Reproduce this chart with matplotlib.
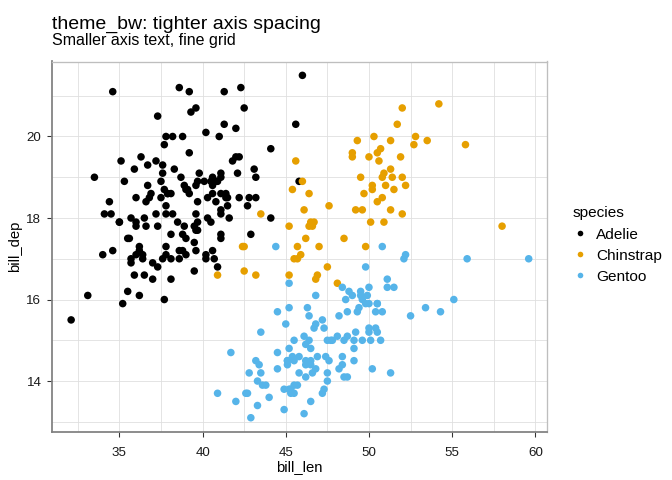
import matplotlib
matplotlib.use("Agg")
import matplotlib.pyplot as plt
from matplotlib.lines import Line2D
from matplotlib.ticker import MultipleLocator

plt.rcParams['font.family'] = ['Liberation Sans', 'DejaVu Sans']

# penguins: bill length / bill depth (mm) per species
adelie_len = [39.1, 39.5, 40.3, 36.7, 39.3, 38.9, 39.2, 34.1, 42.0, 37.8, 37.8, 41.1, 38.6, 34.6, 36.6, 38.7,
              42.5, 34.4, 46.0, 37.8, 37.7, 35.9, 38.2, 38.8, 35.3, 40.6, 40.5, 37.9, 40.5, 39.5, 37.2, 39.5,
              40.9, 36.4, 39.2, 38.8, 42.2, 37.6, 39.8, 36.5, 40.8, 36.0, 44.1, 37.0, 39.6, 41.1, 37.5, 36.0,
              42.3, 39.6, 40.1, 35.0, 42.0, 34.5, 41.4, 39.0, 40.6, 36.5, 37.6, 35.7, 41.3, 37.6, 41.1, 36.4,
              41.6, 35.5, 41.1, 35.9, 41.8, 33.5, 39.7, 39.6, 45.8, 35.5, 42.8, 40.9, 37.2, 36.2, 42.1, 34.6,
              42.9, 36.7, 35.1, 37.3, 41.3, 36.3, 36.9, 38.3, 38.9, 35.7, 41.1, 34.0, 39.6, 36.2, 40.8, 38.1,
              40.3, 33.1, 43.2, 35.0, 41.0, 37.7, 37.8, 37.9, 39.7, 38.6, 38.2, 38.1, 43.2, 38.1, 45.6, 39.7,
              42.2, 39.6, 42.7, 38.6, 37.3, 35.7, 41.1, 36.2, 37.7, 40.2, 41.4, 35.2, 40.6, 38.8, 41.5, 39.0,
              44.1, 38.5, 43.1, 36.8, 37.5, 38.1, 41.1, 35.6, 40.2, 37.0, 39.7, 40.2, 40.6, 32.1, 40.7, 37.3,
              39.0, 39.2, 36.6, 36.0, 37.8, 36.0, 41.5]
adelie_dep = [18.7, 17.4, 18.0, 19.3, 20.6, 17.8, 19.6, 18.1, 20.2, 17.1, 17.3, 17.6, 21.2, 21.1, 17.8, 19.0,
              20.7, 18.4, 21.5, 18.3, 18.7, 19.2, 18.1, 17.2, 18.9, 18.6, 17.9, 18.6, 18.9, 16.7, 18.1, 17.8,
              18.9, 17.0, 21.1, 20.0, 18.5, 19.3, 19.1, 18.0, 18.4, 18.5, 19.7, 16.9, 18.8, 19.0, 18.9, 17.9,
              21.2, 17.7, 18.9, 17.9, 19.5, 18.1, 18.6, 17.5, 18.8, 16.6, 19.1, 16.9, 21.1, 17.0, 18.2, 17.1,
              18.0, 16.2, 19.1, 16.6, 19.4, 19.0, 18.4, 17.2, 18.9, 17.5, 18.5, 16.8, 19.4, 16.1, 19.1, 17.2,
              17.6, 18.8, 19.4, 17.8, 20.3, 19.5, 18.6, 19.2, 18.8, 18.0, 18.1, 17.1, 18.1, 17.3, 18.9, 18.6,
              18.5, 16.1, 18.5, 17.9, 20.0, 16.0, 20.0, 18.6, 18.9, 17.2, 20.0, 17.0, 19.0, 16.5, 20.3, 17.7,
              19.5, 20.7, 18.3, 17.0, 20.5, 17.0, 18.6, 17.2, 19.8, 17.0, 18.5, 15.9, 19.0, 17.6, 18.3, 17.1,
              18.0, 17.9, 19.2, 18.5, 18.5, 17.6, 17.5, 17.5, 20.1, 16.5, 17.9, 17.1, 17.2, 15.5, 17.0, 16.8,
              18.7, 18.6, 18.4, 17.8, 18.1, 17.1, 18.5]

chinstrap_len = [46.5, 50.0, 51.3, 45.4, 52.7, 45.2, 46.1, 51.3, 46.0, 51.3, 46.6, 51.7, 47.0, 52.0, 45.9, 50.5,
                 50.3, 58.0, 46.4, 49.2, 42.4, 48.5, 43.2, 50.6, 46.7, 52.0, 50.5, 49.5, 46.4, 52.8, 40.9, 54.2,
                 42.5, 51.0, 49.7, 47.5, 47.6, 52.0, 46.9, 53.5, 49.0, 46.2, 50.9, 45.5, 50.9, 50.8, 50.1, 49.0,
                 51.5, 49.8, 48.1, 51.4, 45.7, 50.7, 42.5, 52.2, 45.2, 49.3, 50.2, 45.6, 51.9, 46.8, 45.7, 55.8,
                 43.5, 49.6, 50.8, 50.2]
chinstrap_dep = [17.9, 19.5, 19.2, 18.7, 19.8, 17.8, 18.2, 18.2, 18.9, 19.9, 17.8, 20.3, 17.3, 18.1, 17.1, 19.6,
                 20.0, 17.8, 18.6, 18.2, 17.3, 17.5, 16.6, 19.4, 17.9, 19.0, 18.4, 19.0, 17.8, 20.0, 16.6, 20.8,
                 16.7, 18.8, 18.6, 16.8, 18.3, 20.7, 16.6, 19.9, 19.5, 17.5, 19.1, 17.0, 17.9, 18.5, 17.9, 19.6,
                 18.7, 17.3, 16.4, 19.0, 17.3, 19.7, 17.3, 18.8, 16.6, 19.9, 18.8, 19.4, 19.5, 16.5, 17.0, 19.8,
                 18.1, 18.2, 19.0, 18.7]

gentoo_len = [46.1, 50.0, 48.7, 50.0, 47.6, 46.5, 45.4, 46.7, 43.3, 46.8, 40.9, 49.0, 45.5, 48.4, 45.8, 49.3,
              42.0, 49.2, 46.2, 48.7, 50.2, 45.1, 46.5, 46.3, 42.9, 46.1, 44.5, 47.8, 48.2, 50.0, 47.3, 42.8,
              45.1, 59.6, 49.1, 48.4, 42.6, 44.4, 44.0, 48.7, 42.7, 49.6, 45.3, 49.6, 50.5, 43.6, 45.5, 50.5,
              44.9, 45.2, 46.6, 48.5, 45.1, 50.1, 46.5, 45.0, 43.8, 45.5, 43.2, 50.4, 45.3, 46.2, 45.7, 54.3,
              45.8, 49.8, 46.2, 49.5, 43.5, 50.7, 47.7, 46.4, 48.2, 46.5, 46.4, 48.6, 47.5, 51.1, 45.2, 45.2,
              49.1, 52.5, 47.4, 50.0, 44.9, 50.8, 43.4, 51.3, 47.5, 52.1, 47.5, 52.2, 45.5, 49.5, 44.5, 50.8,
              49.4, 46.9, 48.4, 51.1, 48.5, 55.9, 47.2, 49.1, 47.3, 46.8, 41.7, 53.4, 43.3, 48.1, 50.5, 49.8,
              43.5, 51.5, 46.2, 55.1, 44.5, 48.8, 47.2, 46.8, 50.4, 45.2, 49.9]
gentoo_dep = [13.2, 16.3, 14.1, 15.2, 14.5, 13.5, 14.6, 15.3, 13.4, 15.4, 13.7, 16.1, 13.7, 14.6, 14.6, 15.7,
              13.5, 15.2, 14.5, 15.1, 14.3, 14.5, 14.5, 15.8, 13.1, 15.1, 14.3, 15.0, 14.3, 15.3, 15.3, 14.2,
              14.5, 17.0, 14.8, 16.3, 13.7, 17.3, 13.6, 15.7, 13.7, 16.0, 13.7, 15.0, 15.9, 13.9, 13.9, 15.9,
              13.3, 15.8, 14.2, 14.1, 14.4, 15.0, 14.4, 15.4, 13.9, 15.0, 14.5, 15.3, 13.8, 14.9, 13.9, 15.7,
              14.2, 16.8, 14.4, 16.2, 14.2, 15.0, 15.0, 15.6, 15.6, 14.8, 15.0, 16.0, 14.2, 16.3, 13.8, 16.4,
              14.5, 15.6, 14.6, 15.9, 13.8, 17.3, 14.4, 14.2, 14.0, 17.0, 15.0, 17.1, 14.5, 16.1, 14.7, 15.7,
              15.8, 14.6, 14.4, 16.5, 15.0, 17.0, 15.5, 15.0, 13.8, 16.1, 14.7, 15.8, 14.0, 15.1, 15.2, 15.9,
              15.2, 16.3, 14.1, 16.0, 15.7, 16.2, 13.7, 14.3, 15.7, 14.8, 16.1]

species = ['Adelie', 'Chinstrap', 'Gentoo']
colors = ['#000000', '#E69F00', '#56B4E9']
series = [(adelie_len, adelie_dep), (chinstrap_len, chinstrap_dep), (gentoo_len, gentoo_dep)]

fig = plt.figure(figsize=(7, 5), dpi=96)
ax = fig.add_axes([52 / 672, 1 - 432 / 480, 495 / 672, 370.5 / 480])

for (xs, ys), c in zip(series, colors):
    ax.scatter(xs, ys, s=32, color=c, edgecolors='none', zorder=3)

ax.set_xlim(30.95, 60.7)
ax.set_ylim(12.75, 21.84)
ax.xaxis.set_major_locator(MultipleLocator(5))
ax.xaxis.set_minor_locator(MultipleLocator(2.5))
ax.yaxis.set_major_locator(MultipleLocator(2))
ax.yaxis.set_minor_locator(MultipleLocator(1))
ax.grid(True, which='both', color='#DEDEDE', linewidth=0.6, zorder=0)
ax.set_axisbelow(True)

for side in ['top', 'right']:
    ax.spines[side].set_color('#BEBEBE')
    ax.spines[side].set_linewidth(1.0)
for side in ['left', 'bottom']:
    ax.spines[side].set_color('#7F7F7F')
    ax.spines[side].set_linewidth(1.3)

ax.tick_params(which='major', direction='out', length=4, width=0.8, color='#333333',
               labelsize=10, labelcolor='#1A1A1A', pad=4)
ax.tick_params(axis='x', which='major', pad=7)
ax.tick_params(which='minor', length=0)

ax.set_xlabel('bill_len', fontsize=11.2, labelpad=1)
ax.set_ylabel('bill_dep', fontsize=11.2, labelpad=3)

fig.text(52 / 672, 1 - 29 / 480, 'theme_bw: tighter axis spacing', fontsize=14.6, va='baseline')
fig.text(52 / 672, 1 - 45 / 480, 'Smaller axis text, fine grid', fontsize=12, va='baseline')

handles = [Line2D([], [], linestyle='none', marker='o', markersize=4.2, color=c, markeredgewidth=0)
           for c in colors]
leg = fig.legend(handles, species, title='species', loc='upper left',
                 bbox_to_anchor=(559 / 672, 1 - 192 / 480), frameon=False,
                 fontsize=11.5, title_fontsize=11.5, handlelength=1.0, handletextpad=0.5,
                 labelspacing=0.45)
leg._legend_box.align = 'left'
leg._legend_box.sep = 6

fig.savefig('out.png', dpi=96)
